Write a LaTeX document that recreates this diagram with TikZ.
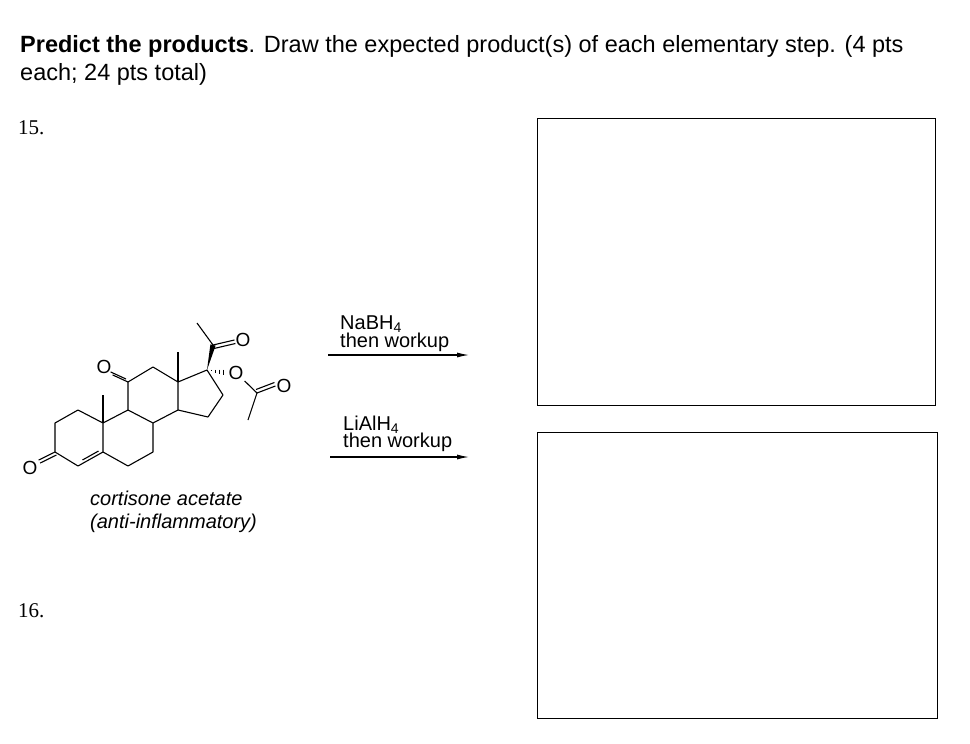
\documentclass[tikz,border=0pt]{standalone}
\usepackage{fontspec}
\setmainfont{Liberation Sans}
\newfontfamily\serifx{Liberation Serif}
\usetikzlibrary{arrows.meta,calc}
\begin{document}
\begin{tikzpicture}[x=1pt,y=-1pt,
  bd/.style={line width=1.1pt},
  atom/.style={inner sep=1pt,font=\fontsize{19}{19}\selectfont},
  txt/.style={inner sep=0,anchor=base west,align=left},
  ansbox/.style={draw,line width=1pt},
  rxn/.style={line width=1.1pt,-{Latex[length=12pt,width=5pt]}}]
\useasboundingbox (0,0) rectangle (970,744);
\node[txt,font=\fontsize{23.5}{24}\selectfont] (t1) at (20,52) {\textbf{Predict the products}. Draw the expected product(s) of each elementary step. (4 pts};
\node[txt,font=\fontsize{23.5}{24}\selectfont] (t2) at (20,80) {each; 24 pts total)};
\node[txt,font=\serifx\fontsize{21}{22}\selectfont] (n15) at (18,134) {15.};
\node[txt,font=\serifx\fontsize{21}{22}\selectfont] (n16) at (18,617) {16.};
\node[ansbox,minimum width=398,minimum height=287,anchor=north west] (b1) at (537,118) {};
\node[ansbox,minimum width=400,minimum height=286,anchor=north west] (b2) at (537,432) {};
\coordinate (a1s) at (328,355); \coordinate (a1e) at (469,355);
\coordinate (a2s) at (330,457); \coordinate (a2e) at (469,457);
\draw[rxn] (a1s) -- (a1e);
\draw[rxn] (a2s) -- (a2e);
\node[txt,font=\fontsize{20}{20}\selectfont] (r1) at (340,329) {NaBH\textsubscript{4}};
\node[txt,font=\fontsize{20}{20}\selectfont] (r2) at (340,347) {then workup};
\node[txt,font=\fontsize{20}{20}\selectfont] (r3) at (343,430) {LiAlH\textsubscript{4}};
\node[txt,font=\fontsize{20}{20}\selectfont] (r4) at (343,447) {then workup};
\node[txt,font=\itshape\fontsize{20}{20}\selectfont] (c1) at (90,505) {cortisone acetate};
\node[txt,font=\itshape\fontsize{20}{20}\selectfont] (c2) at (90,528) {(anti-inflammatory)};
\coordinate (C1) at (78,410); \coordinate (C2) at (55,423); \coordinate (C3) at (55,452);
\coordinate (C4) at (78,466); \coordinate (C5) at (103,452); \coordinate (C10) at (103,423);
\coordinate (C19) at (103,395); \coordinate (C9) at (128,410); \coordinate (C8) at (153,423);
\coordinate (C7) at (153,452); \coordinate (C6) at (128,466); \coordinate (C11) at (128,382);
\coordinate (C12) at (153,367); \coordinate (C13) at (178,382); \coordinate (C14) at (178,410);
\coordinate (C18) at (178,352); \coordinate (C15) at (208,417); \coordinate (C16) at (223,395);
\coordinate (C17) at (207,370); \coordinate (C20) at (213,345); \coordinate (C21) at (197,323);
\coordinate (CE) at (257,393); \coordinate (CM) at (248,420);
\node[atom] (O3) at (30,468) {O};
\node[atom] (O11) at (104,367) {O};
\node[atom] (O20) at (243,340) {O};
\node[atom] (O17) at (236,373) {O};
\node[atom] (OE) at (284,386) {O};
\draw[bd,line join=round] (C3)--(C2)--(C1)--(C10)--(C5)--(C4)--(C3);
\draw[bd] ($(C5)!0.18!(C4)+(0,-3.5)$) -- ($(C4)!0.18!(C5)+(0,-3.5)$);
\draw[bd] (C3)--(O3.north east); \draw[bd] ($(C3)+(1.5,3)$)--($(O3.north east)+(1.5,3)$);
\draw[bd,line join=round] (C10)--(C9)--(C8)--(C7)--(C6)--(C5);
\draw[bd] (C10)--(C19);
\draw[bd,line join=round] (C9)--(C11)--(C12)--(C13)--(C14)--(C8);
\draw[bd] (C11)--(O11.south east); \draw[bd] ($(C11)+(-2,-3)$)--($(O11.south east)+(-2,-3)$);
\draw[bd] (C13)--(C18);
\draw[bd,line join=round] (C14)--(C15)--(C16)--(C17)--(C13);
\fill (C17) -- ($(C20)+(-2.6,-0.6)$) -- ($(C20)+(2.6,0.6)$) -- cycle;
\draw[bd] (C20)--(C21);
\draw[bd] (C20)--(O20.west); \draw[bd] ($(C20)+(1,3.5)$)--($(O20.west)+(1,3.5)$);
\foreach \t in {0.2,0.4,0.6,0.8}
  \draw[line width=1pt] ($(C17)!\t!(O17.west)+(0,{-3.5*\t})$) -- ($(C17)!\t!(O17.west)+(0,{3.5*\t})$);
\draw[bd] (O17.south east)--(CE)--(CM);
\draw[bd] (CE)--(OE.west); \draw[bd] ($(CE)+(-1,-3.5)$)--($(OE.west)+(-1,-3.5)$);
\end{tikzpicture}
\end{document}
